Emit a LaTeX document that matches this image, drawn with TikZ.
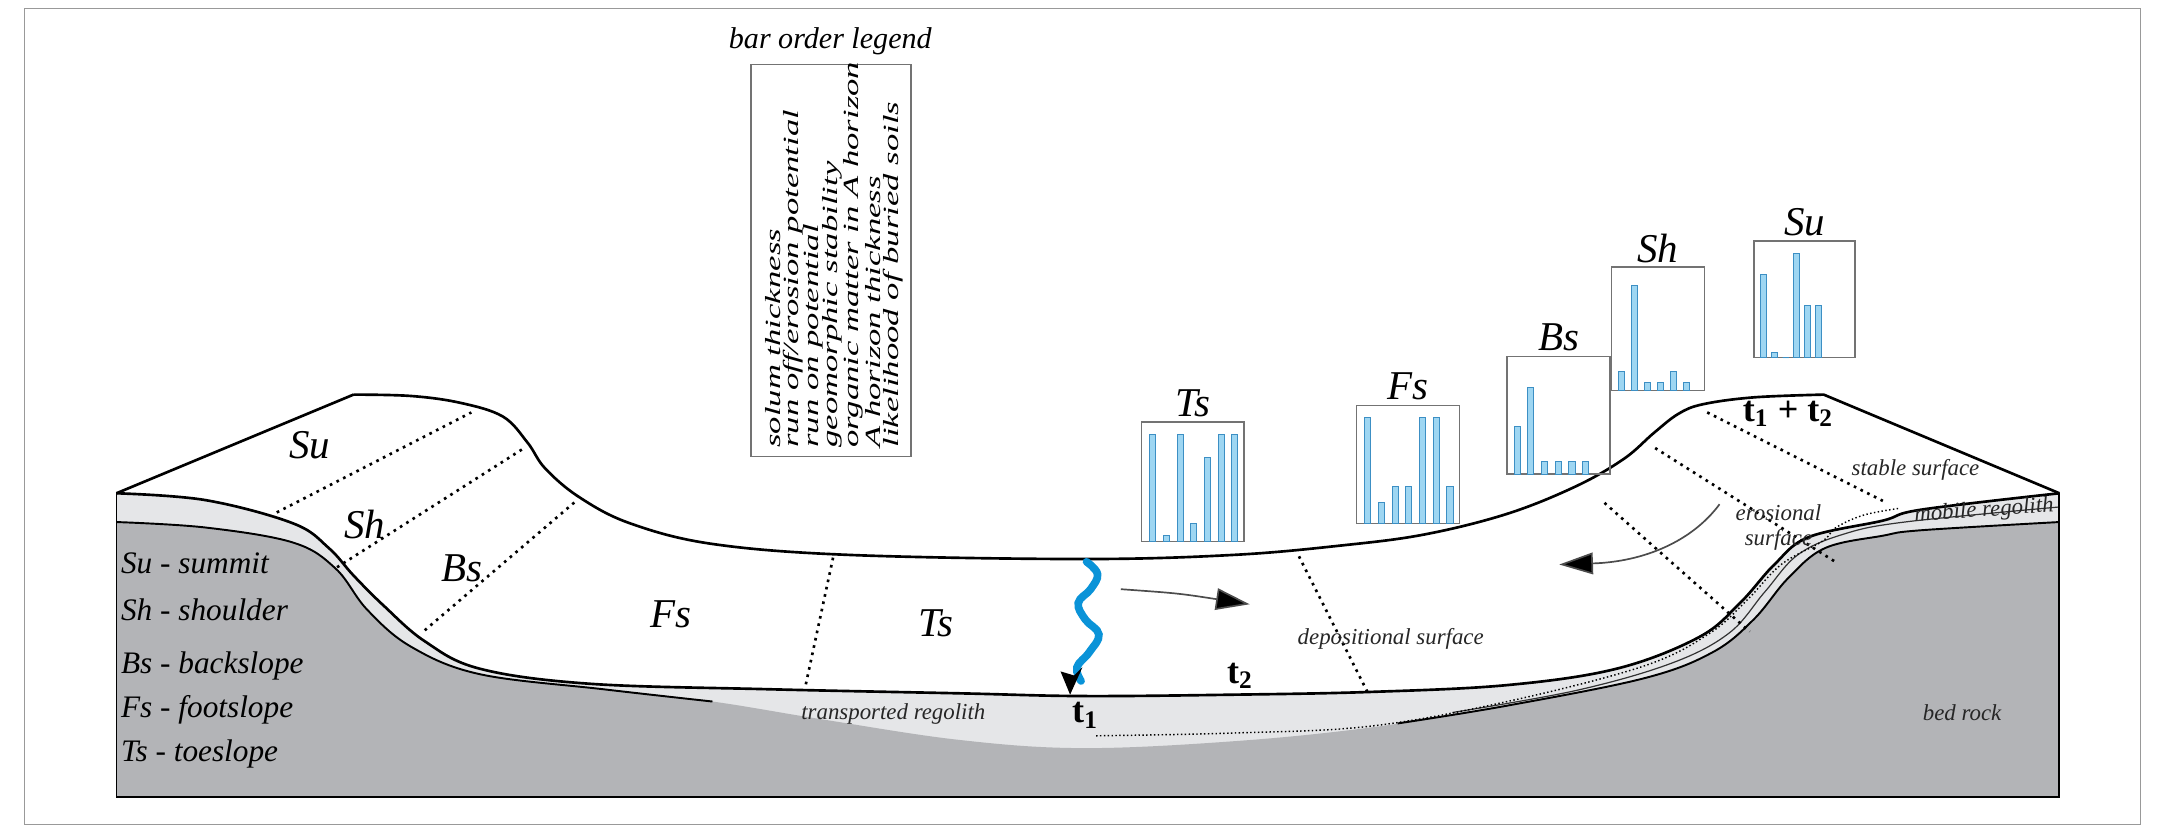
\documentclass[tikz,border=0pt]{standalone}
\usepackage{fontspec}
\setmainfont{Liberation Serif}
\usetikzlibrary{arrows.meta}
\definecolor{rock}{HTML}{B3B4B7}
\definecolor{reg}{HTML}{E5E6E8}
\definecolor{barfill}{HTML}{9ED6F2}
\definecolor{barline}{HTML}{3C8FC4}
\definecolor{riv}{HTML}{0A93D8}
\begin{document}
\begin{tikzpicture}[x=0.02cm,y=-0.02cm,
  edge/.style={line width=1.1pt,black},
  zone/.style={dotted,line width=1.1pt},
  lbl/.style={font=\fontsize{17}{17}\selectfont\itshape,inner sep=0},
  key/.style={font=\fontsize{13}{13}\selectfont\itshape,inner sep=0,anchor=west},
  small/.style={font=\fontsize{9.5}{10}\selectfont\itshape,inner sep=0,text=black!85},
  tlab/.style={font=\fontsize{15}{15}\selectfont\bfseries,inner sep=0},
  box/.style={draw=black!55,line width=0.6pt},
  bar/.style={fill=barfill,draw=barline,line width=0.4pt},
  flow/.style={line width=0.7pt,black!70,-{Triangle[length=14pt,width=9pt,fill=black]}}]
\useasboundingbox (0,0) rectangle (1575,609);
\draw[black!40,line width=0.5pt] (18,6) rectangle (1562,602);
% regolith (under front profile)
\fill[reg] plot[smooth,tension=0.6] coordinates {(85,360)(150,365)(214,382)(240,400)(258,420)(280,442)(310,468)(350,488)(430,499)(560,503)(700,506)(790,508)(900,507)(1000,505)(1100,500)(1180,488)(1240,465)(1270,440)(1295,412)(1320,392)(1374,380)(1402,372)(1503,360)} -- (1503,582) -- (85,582) -- cycle;
% bedrock
\fill[rock] plot[smooth,tension=0.6] coordinates {(85,381)(150,385)(214,396)(245,415)(268,445)(300,472)(350,492)(440,503)(520,512)(600,525)(700,540)(790,546)(900,541)(1000,531)(1100,515)(1200,495)(1250,476)(1280,452)(1305,422)(1332,400)(1374,391)(1402,387)(1503,381)} -- (1503,582) -- (85,582) -- cycle;
\draw[edge,line width=0.8pt] plot[smooth,tension=0.6] coordinates {(85,381)(150,385)(214,396)(245,415)(268,445)(300,472)(350,492)(440,503)(520,512)};
\draw[edge,line width=0.8pt] plot[smooth,tension=0.6] coordinates {(1020,528)(1100,515)(1200,495)(1250,476)(1280,452)(1305,422)(1332,400)(1374,391)(1402,387)(1503,381)};
\draw[black!80,line width=0.5pt] plot[smooth,tension=0.6] coordinates {(1060,520)(1150,504)(1220,484)(1262,462)(1288,432)(1312,405)(1345,390)(1390,381)(1503,370)};
\draw[densely dotted,line width=0.6pt] plot[smooth,tension=0.6] coordinates {(800,537)(900,535)(1000,530)(1100,512)(1200,486)(1248,462)(1275,438)(1300,412)(1330,395)(1340,385)(1360,376)(1386,371)};
% front profile line
\draw[edge] plot[smooth,tension=0.6] coordinates {(85,360)(150,365)(214,382)(240,400)(258,420)(280,442)(310,468)(350,488)(430,499)(560,503)(700,506)(790,508)(900,507)(1000,505)(1100,500)(1180,488)(1240,465)(1270,440)(1295,412)(1320,392)(1374,380)(1402,372)(1503,360)};
% back edge
\draw[edge] (85,360) -- (258,288) plot[smooth,tension=0.6] coordinates {(258,288)(300,289)(336,294)(367,304)(385,323)(398,342)(423,363)(460,382)(520,397)(620,405)(790,408)(900,405)(980,398)(1040,390)(1100,375)(1150,355)(1185,335)(1207,316)(1225,302)(1243,295)(1280,290)(1331,288)} -- (1503,360);
% block sides
\draw[line width=0.8pt] (85,360) -- (85,582) -- (1503,582) -- (1503,360);
% zone boundaries
\draw[zone] (202,374) -- (344,301);
\draw[zone] (246,414) -- (381,328);
\draw[zone] (310,460) -- (420,366);
\draw[zone] (608,407) -- (588,500);
\draw[zone] (948,406) -- (998,505);
\draw[zone] (1171,367) -- (1277,461);
\draw[zone] (1208,327) -- (1341,411);
\draw[zone] (1246,301) -- (1377,367);
% river
\draw[riv,line width=3.2pt,line cap=round] plot[smooth,tension=0.7] coordinates {(793,410)(801,419)(796,430)(787,440)(792,452)(802,463)(795,476)(786,487)(789,497)};
\fill[black] (781,507) -- (774,490) -- (784,493) -- (790,487) -- cycle;
% flow arrows
\draw[flow] (818,430) .. controls (860,433) .. (912,441);
\draw[flow] (1255,368) .. controls (1235,395) and (1200,410) .. (1138,412);
% zone labels on surface
\node[lbl] (lSu) at (226,325) {Su};
\node[lbl] (lSh) at (266,383) {Sh};
\node[lbl] (lBs) at (337,415) {Bs};
\node[lbl] (lFs) at (490,448) {Fs};
\node[lbl] (lTs) at (683,455) {Ts};
% key
\node[key] (k1) at (88,411) {Su - summit};
\node[key] (k2) at (88,445) {Sh - shoulder};
\node[key] (k3) at (88,486) {Bs - backslope};
\node[key] (k4) at (88,518) {Fs - footslope};
\node[key] (k5) at (88,550) {Ts - toeslope};
% small labels
\node[small] (dep) at (1015,466) {depositional surface};
\node[small] (trans) at (652,521) {transported regolith};
\node[small] (bed) at (1432,520) {bed rock};
\node[small] (stab) at (1398,343) {stable surface};
\node[small,align=center] (eros) at (1298,385) {erosional\\surface};
\node[small,rotate=4] (mob) at (1448,373) {mobile regolith};
\node[tlab] (t1) at (792,522) {t\textsubscript{1}};
\node[tlab] (t2) at (905,493) {t\textsubscript{2}};
\node[tlab] (t12) at (1305,302) {t\textsubscript{1} + t\textsubscript{2}};
% legend box
\draw[box] (548,47) rectangle (665,333);
\node[font=\fontsize{12.5}{13}\selectfont\itshape] (lgt) at (606,30) {bar order legend};
\foreach \t [count=\i] in {solum thickness,run off/erosion potential,run on potential,geomorphic stability,organic matter in A horizon,A horizon thickness,likelihood of buried soils}
  \node[rotate=90,anchor=west,inner sep=0,font=\fontsize{9}{10}\selectfont\itshape] (lg\i) at (559+\i*14.6-14.6+5,327) {\scalebox{1.6}[1]{\t}};
% bar charts
\newcommand\mychart[8]{%
  \draw[box] (#1,#2) rectangle (#3,#4);
  \node[lbl] at ({(#1+#3)/2},{#2-14}) {#5};
  \foreach \h [count=\i] in {#8}
    \draw[bar] ({#1+#6+(\i-1)*#7},#4) rectangle ++(4.5,{-\h*(#4-#2-9)});}
\mychart{833}{308}{908}{395}{Ts}{6}{10}{1,.05,1,.17,.78,1,1}
\mychart{990}{296}{1065}{382}{Fs}{6}{10}{1,.2,.35,.35,1,1,.35}
\mychart{1100}{260}{1175}{346}{Bs}{5}{10}{.45,.82,.12,.12,.12,.12}
\mychart{1176}{195}{1244}{285}{Sh}{5}{9.5}{.17,.95,.07,.07,.17,.07}
\mychart{1280}{176}{1354}{261}{Su}{5}{8}{.8,.05,0,1,.5,.5}
\end{tikzpicture}
\end{document}
